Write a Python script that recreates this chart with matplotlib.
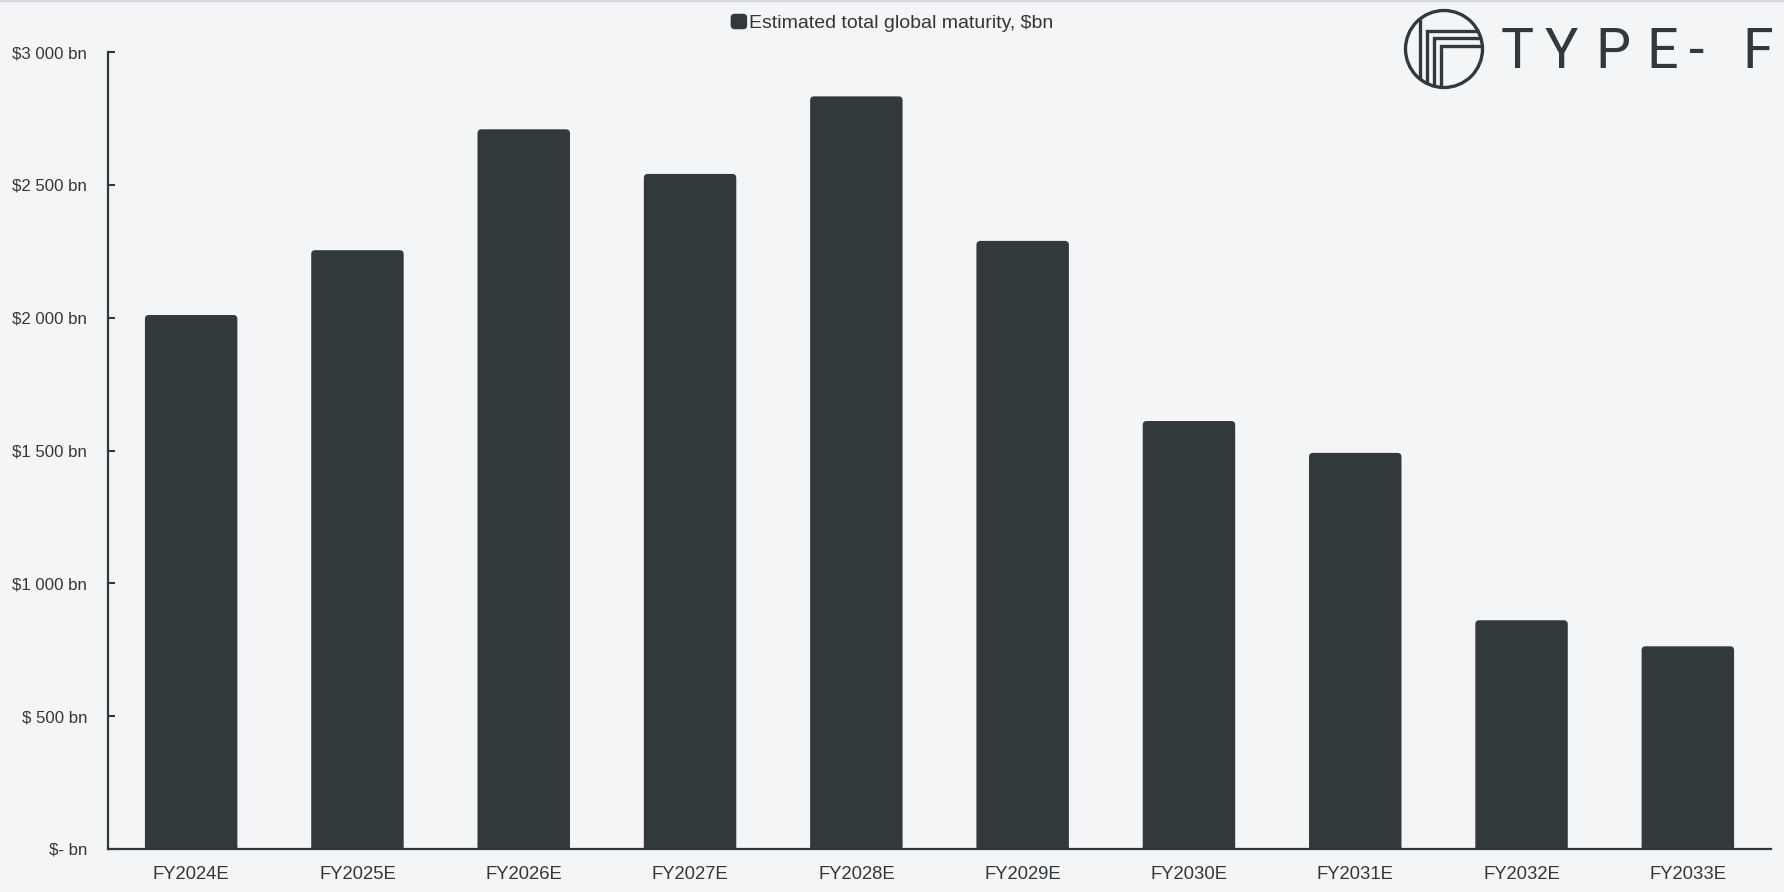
import matplotlib
matplotlib.use('Agg')
import matplotlib.pyplot as plt
from matplotlib.patches import FancyBboxPatch, Circle, Patch
from matplotlib.lines import Line2D
from matplotlib.legend_handler import HandlerPatch
import numpy as np

categories = ['FY2024E', 'FY2025E', 'FY2026E', 'FY2027E', 'FY2028E',
              'FY2029E', 'FY2030E', 'FY2031E', 'FY2032E', 'FY2033E']
values = [2010, 2254, 2709, 2541, 2833, 2289, 1611, 1491, 861, 763]
yticks = [0, 500, 1000, 1500, 2000, 2500, 3000]
ytick_labels = ['$- bn', '$ 500 bn', '$1 000 bn', '$1 500 bn',
                '$2 000 bn', '$2 500 bn', '$3 000 bn']
series_name = 'Estimated total global maturity, $bn'

BG = '#f4f5f7'
DARK = '#32393d'
TXT = '#333638'
W, H = 1784, 892

plt.rcParams['font.family'] = ['Liberation Sans', 'DejaVu Sans']

fig = plt.figure(figsize=(W / 100, H / 100), dpi=100, facecolor=BG)
ax = fig.add_axes([108 / W, 1 - 849 / H, (1771 - 108) / W, (849 - 52) / H])
ax.set_facecolor(BG)

x = np.arange(len(categories))
bars = ax.bar(x, values, width=0.556, color=DARK)
ax.set_xlim(-0.5, len(categories) - 0.5)
ax.set_ylim(0, 3000)

# rounded-top bars built from the bar geometry
rx = 0.024
aspect = 15 / rx
for r in list(bars.patches):
    bx, by, bw, bh = r.get_x(), r.get_y(), r.get_width(), r.get_height()
    fp = FancyBboxPatch((bx, by - 30), bw, bh + 30,
                        boxstyle=f'round,pad=0,rounding_size={rx}',
                        mutation_aspect=aspect, facecolor=DARK,
                        edgecolor='none', zorder=2)
    ax.add_patch(fp)
    r.remove()

ax.set_xticks(x)
ax.set_xticklabels(categories)
ax.set_yticks(yticks)
ax.set_yticklabels(ytick_labels)

for s in ['top', 'right']:
    ax.spines[s].set_visible(False)
for s in ['left', 'bottom']:
    ax.spines[s].set_color(DARK)
    ax.spines[s].set_linewidth(1.6)
    ax.spines[s].set_zorder(3)

ax.tick_params(axis='y', direction='in', length=5, width=1.5, color=DARK,
               labelsize=12.1, pad=15, labelcolor=TXT)
ax.tick_params(axis='x', length=0, labelsize=13.3, pad=12, labelcolor=TXT)


def rounded_handle(legend, orig_handle, xdescent, ydescent, width, height, fontsize):
    return FancyBboxPatch((-xdescent, -ydescent), width, height,
                          boxstyle='round,pad=0,rounding_size=3',
                          facecolor=DARK, edgecolor='none')


proxy = Patch(facecolor=DARK, label=series_name)
fig.legend(handles=[proxy], labels=[series_name], loc='center',
           bbox_to_anchor=(0.5, 1 - 23 / H), frameon=False, fontsize=14,
           handlelength=0.85, handleheight=0.85, handletextpad=0.1,
           labelcolor=TXT,
           handler_map={Patch: HandlerPatch(patch_func=rounded_handle)})

# top border line
fig.add_artist(Line2D([0, 1], [1 - 1 / H, 1 - 1 / H], transform=fig.transFigure,
                      color='#d6d9dd', lw=1.5))

# logo
lax = fig.add_axes([1395 / W, 1 - 95 / H, 100 / W, 90 / H])
lax.set_xlim(1395, 1495)
lax.set_ylim(95, 5)
lax.axis('off')
cx, cy, rr = 1444, 49, 38.5
lax.add_patch(Circle((cx, cy), rr, fill=False, edgecolor=DARK, lw=2.4))
xs = [1419.5, 1426.5, 1433.5, 1440.5]
yh = [30.5, 37.5, 45.5]


def chord_y(xv):
    return np.sqrt(rr ** 2 - (xv - cx) ** 2)


def chord_x(yv):
    return np.sqrt(rr ** 2 - (yv - cy) ** 2)


lw = 2.4
d = chord_y(xs[0])
lax.plot([xs[0], xs[0]], [cy - d, cy + d], color=DARK, lw=lw, solid_capstyle='butt')
for i in range(3):
    xv = xs[i + 1]
    yv = yh[i]
    lax.plot([xv, xv, cx + chord_x(yv) - 1], [cy + chord_y(xv), yv, yv],
             color=DARK, lw=lw, solid_capstyle='butt', solid_joinstyle='miter')

for ch, xc in zip(['T', 'Y', 'P', 'E', '-', 'F'],
                  [1517.5, 1561.7, 1613, 1661.7, 1697, 1758]):
    fig.text(xc / W, 1 - 68 / H, ch, ha='center', va='baseline', fontsize=40,
             color=DARK, family=['Roboto', 'DejaVu Sans'], fontweight='normal')

fig.savefig('out.png', dpi=100, facecolor=BG)
